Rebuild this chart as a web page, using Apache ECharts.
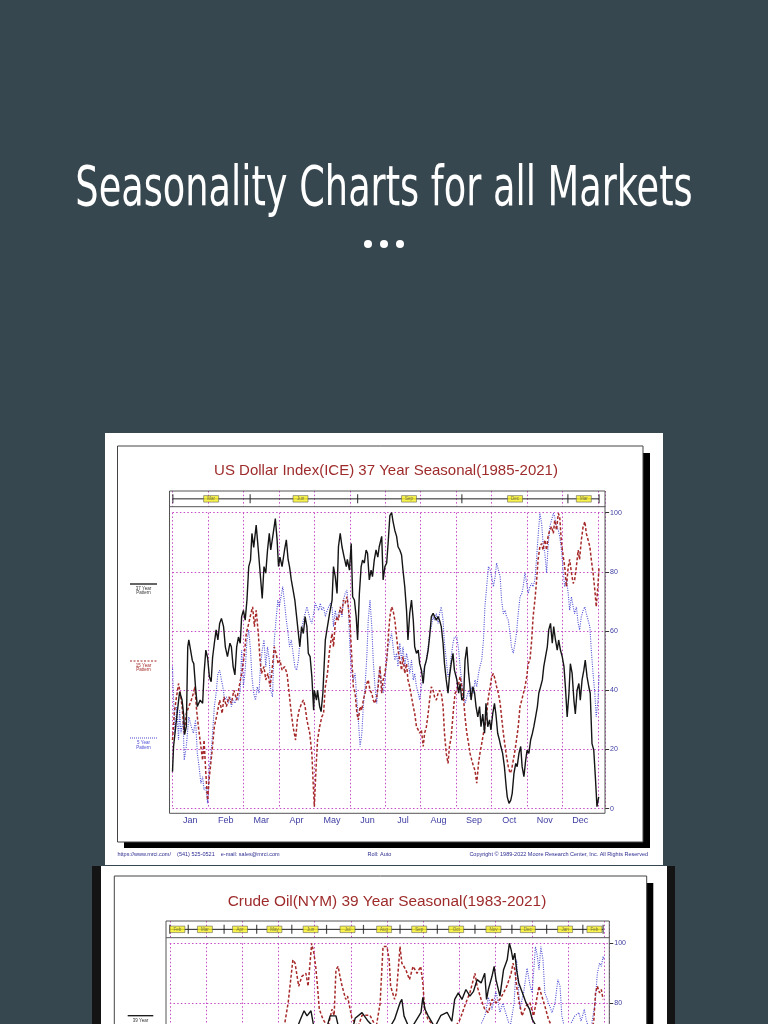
<!DOCTYPE html>
<html>
<head>
<meta charset="utf-8">
<script src="https://cdn.jsdelivr.net/npm/echarts@6/dist/echarts.min.js"></script>
<style>
html,body{margin:0;padding:0;background:#37474f;}
#main{width:768px;height:1024px;}
</style>
</head>
<body>
<div id="main"></div>
<script>
// ---------- DATA ----------
const months = ['Jan','Feb','Mar','Apr','May','Jun','Jul','Aug','Sep','Oct','Nov','Dec'];

// US Dollar Index chart (x = month position, 0 = Jan 1, 12 = Dec 31)
const usdContractNames = ['Mar','Jun','Sep','Dec','Mar'];
const usdContractPos = [1.09, 3.61, 6.67, 9.66, 11.6];
const usdRollTicks = [0.01, 2.19, 5.22, 8.16, 11.15, 12.03];

const usd37 = [[0,12.5],[0.03,21],[0.12,31],[0.20,39.5],[0.24,40],[0.27,36.7],[0.32,31],[0.34,25],[0.39,27.7],[0.43,54.7],[0.46,57],[0.51,53.6],[0.56,50],[0.60,49],[0.65,41],[0.70,34.5],[0.78,36.7],[0.85,35.6],[0.89,45.7],[0.94,53.6],[0.99,51],[1.04,44.6],[1.09,42.9],[1.13,51],[1.18,55.9],[1.23,60.4],[1.28,57],[1.33,62.6],[1.38,64.3],[1.44,61.5],[1.49,54.7],[1.55,51.4],[1.62,55.9],[1.66,54.7],[1.71,48],[1.76,45.2],[1.81,54.7],[1.86,58],[1.91,55.9],[1.95,64.9],[2.00,67],[2.05,63.7],[2.10,70.5],[2.15,81.8],[2.20,84],[2.24,93],[2.29,88.3],[2.36,95.8],[2.42,87.4],[2.48,78.4],[2.53,71],[2.58,81.8],[2.63,79.6],[2.68,87.4],[2.73,93],[2.77,87.4],[2.84,93],[2.90,98],[2.95,90.8],[2.99,81.8],[3.03,85],[3.09,81.8],[3.16,87.4],[3.21,90.8],[3.26,84.2],[3.30,81.8],[3.35,77.3],[3.40,73.9],[3.45,70.5],[3.50,64.9],[3.55,59.2],[3.59,54.7],[3.64,61.5],[3.69,59.2],[3.74,64.9],[3.79,61.5],[3.83,52.5],[3.88,51.4],[3.93,44.6],[3.98,33.3],[4.00,40],[4.06,36.7],[4.09,40],[4.15,34.5],[4.19,32.8],[4.24,39],[4.31,57],[4.37,61.5],[4.43,66],[4.50,70.5],[4.54,81.8],[4.59,78.4],[4.64,72.7],[4.68,88.5],[4.73,93],[4.78,88.5],[4.84,85],[4.90,81.8],[4.93,84.2],[4.99,80.6],[5.04,89.6],[5.08,71.6],[5.13,70.5],[5.18,64.9],[5.22,57],[5.27,72.7],[5.32,81.8],[5.36,84],[5.41,83],[5.46,87.4],[5.50,86.3],[5.55,77.3],[5.60,80.6],[5.64,78.4],[5.69,84],[5.74,87.4],[5.79,85],[5.83,88.5],[5.90,92],[5.94,77.3],[5.99,81.8],[6.04,83],[6.08,89.6],[6.13,99],[6.18,100],[6.22,97],[6.27,94],[6.32,92],[6.36,88.5],[6.41,87.4],[6.46,85.7],[6.50,80.6],[6.55,75],[6.60,67],[6.64,57],[6.69,66],[6.74,70.5],[6.79,63.7],[6.83,54.7],[6.88,52.5],[6.93,53.6],[6.97,49],[7.02,46.8],[7.07,42.3],[7.11,48],[7.16,50.2],[7.21,53.6],[7.25,58],[7.30,64.9],[7.35,66],[7.39,64.9],[7.44,63.7],[7.49,64.9],[7.53,63.7],[7.58,61.5],[7.63,55.9],[7.67,49],[7.72,43.5],[7.77,39],[7.81,44.6],[7.86,49],[7.91,52.5],[7.95,46.8],[8.02,43.5],[8.07,39],[8.11,42.3],[8.16,36.7],[8.21,37.8],[8.25,50.2],[8.30,54.7],[8.35,45.7],[8.39,41.2],[8.42,36.7],[8.47,41.2],[8.52,39],[8.56,34.5],[8.61,31],[8.66,34.5],[8.70,27.7],[8.75,32],[8.80,25.5],[8.84,35.6],[8.89,27.7],[8.94,30],[8.98,26.6],[9.03,32],[9.08,35.6],[9.12,32],[9.17,25.5],[9.22,23.2],[9.26,21],[9.31,18.7],[9.36,14.2],[9.41,7.4],[9.44,4],[9.49,1.8],[9.54,2.9],[9.58,5.2],[9.63,12],[9.68,15.3],[9.72,14.2],[9.77,18.7],[9.82,21],[9.86,14.2],[9.91,10.8],[9.96,16.4],[10.00,19.8],[10.05,18.7],[10.10,23.2],[10.15,25.5],[10.19,27.7],[10.24,31],[10.29,34.5],[10.33,39],[10.38,41.2],[10.43,43.5],[10.47,48],[10.52,51.4],[10.57,54.7],[10.61,60.4],[10.66,62.6],[10.71,55.9],[10.75,61.5],[10.80,57],[10.85,53.6],[10.89,57],[10.94,53.6],[10.99,51.4],[11.04,48],[11.08,41.2],[11.13,31],[11.18,39],[11.22,49],[11.27,45.7],[11.32,36.7],[11.36,32],[11.41,40],[11.46,42.3],[11.50,36.7],[11.55,43.5],[11.60,46.8],[11.64,50.2],[11.69,44.6],[11.74,41.2],[11.78,39],[11.83,22],[11.88,19.8],[11.93,9.7],[11.97,0.7],[12.02,4]];

const usd15 = [[0,23.2],[0.05,32.2],[0.10,36.7],[0.17,42.3],[0.22,39],[0.27,34.5],[0.33,25.5],[0.39,32.2],[0.46,34.5],[0.53,36.7],[0.59,39],[0.63,41.2],[0.68,33.3],[0.73,27.7],[0.80,21],[0.85,16.4],[0.89,23.2],[0.94,12],[0.99,2.9],[1.04,10.8],[1.11,18.7],[1.18,27.7],[1.26,32.2],[1.33,36.7],[1.40,32.2],[1.45,37.8],[1.52,34.5],[1.59,37.8],[1.66,35.6],[1.73,40],[1.81,36.7],[1.88,41.2],[1.95,45.7],[2.02,51.4],[2.08,59.2],[2.15,62.6],[2.21,65.9],[2.26,68.2],[2.31,61.5],[2.36,67],[2.42,59.2],[2.47,50.2],[2.51,45.7],[2.58,48],[2.63,43.5],[2.69,45.7],[2.75,41.2],[2.80,45.7],[2.87,54.7],[2.92,52.5],[2.98,49],[3.03,50.2],[3.09,46.8],[3.16,48],[3.23,45.7],[3.29,39],[3.35,32.2],[3.40,27.7],[3.47,23.2],[3.52,30],[3.57,33.3],[3.64,35.6],[3.69,36.7],[3.74,34.5],[3.79,30],[3.87,25.5],[3.93,18.7],[3.98,5.2],[4.00,0.7],[4.05,14.2],[4.09,23.2],[4.15,27.7],[4.21,31],[4.26,32.2],[4.31,41.2],[4.37,45.7],[4.43,53.6],[4.50,59.2],[4.54,54.7],[4.59,62.6],[4.64,64.9],[4.68,63.7],[4.73,68.2],[4.78,65.9],[4.82,70.5],[4.87,69.4],[4.92,71.6],[4.96,68.2],[5.01,61.5],[5.06,50.2],[5.10,41.2],[5.15,39],[5.20,32.2],[5.24,30],[5.29,34.5],[5.34,33.3],[5.38,36.7],[5.43,39],[5.48,42.3],[5.52,43.5],[5.57,40],[5.62,39],[5.66,36.7],[5.71,35.6],[5.76,37.8],[5.80,41.2],[5.85,48],[5.90,39],[5.94,43.5],[5.99,45.7],[6.04,50.2],[6.08,57],[6.13,64.9],[6.18,68.2],[6.22,67],[6.27,63.7],[6.32,58],[6.36,53.6],[6.41,50.2],[6.46,46.8],[6.50,51.4],[6.55,45.7],[6.60,49],[6.64,43.5],[6.69,41.2],[6.74,37.8],[6.79,34.5],[6.83,32.2],[6.88,27.7],[6.93,26.6],[6.97,25.5],[7.02,26.6],[7.07,21],[7.11,25.5],[7.16,27.7],[7.21,32.2],[7.25,36.7],[7.30,41.2],[7.35,40],[7.39,37.8],[7.44,36.7],[7.49,39],[7.53,40],[7.58,39],[7.63,34.5],[7.67,25.5],[7.72,18.7],[7.77,15.3],[7.81,21],[7.86,24.3],[7.93,34.5],[7.97,39],[8.02,40],[8.07,42.3],[8.11,44.6],[8.16,41.2],[8.21,36.7],[8.25,31],[8.30,25.5],[8.35,22],[8.39,18.7],[8.44,16.4],[8.49,14.2],[8.53,13],[8.58,8.6],[8.63,15.3],[8.67,18.7],[8.72,22],[8.77,25.5],[8.81,27.7],[8.86,32.2],[8.91,37.8],[8.96,41.2],[9.00,44.6],[9.05,45.7],[9.10,43.5],[9.14,41.2],[9.19,39],[9.24,35.6],[9.28,31],[9.33,25.5],[9.38,21],[9.42,17.6],[9.47,14.2],[9.52,12],[9.56,13],[9.61,16.4],[9.66,19.8],[9.70,23.2],[9.75,27.7],[9.80,34.5],[9.85,36.7],[9.89,36.7],[9.94,41.2],[9.99,44.6],[10.03,49],[10.08,50.2],[10.13,57],[10.17,64.9],[10.22,70.5],[10.27,77.3],[10.31,84.2],[10.36,88.5],[10.41,89.6],[10.45,87.4],[10.50,90.8],[10.55,87.4],[10.59,91.9],[10.64,94.1],[10.69,95.3],[10.74,93],[10.78,97.5],[10.83,94.1],[10.88,99.8],[10.92,98.6],[10.97,89.6],[11.02,85.1],[11.06,81.8],[11.11,75],[11.16,81.8],[11.20,84.2],[11.25,79.7],[11.30,76.1],[11.34,77.3],[11.39,81.8],[11.44,87.4],[11.48,84.2],[11.53,90.8],[11.58,95.3],[11.63,97],[11.67,93],[11.72,90.8],[11.77,88.5],[11.81,84.2],[11.86,79.7],[11.91,73.9],[11.95,68.2],[12.00,75.8],[12.03,81.8]];

const usd5 = [[0,48],[0.03,36.7],[0.07,25.5],[0.12,34.5],[0.17,23.2],[0.20,33.3],[0.24,25.5],[0.30,30],[0.33,16.4],[0.39,21],[0.46,31],[0.53,27.7],[0.59,25.5],[0.65,30],[0.70,18.7],[0.75,14.2],[0.80,8.6],[0.85,10.8],[0.89,6.3],[0.94,7.4],[0.99,1.8],[1.04,14.2],[1.09,18.7],[1.13,25.5],[1.18,34.5],[1.23,39],[1.28,45.7],[1.33,46.8],[1.38,43.5],[1.42,41.2],[1.47,36.7],[1.52,37.8],[1.57,35.6],[1.62,37.8],[1.66,34.5],[1.71,36.7],[1.76,35.6],[1.81,37.8],[1.86,36.7],[1.91,40],[1.95,53.6],[2.00,41.2],[2.05,46.8],[2.10,57],[2.15,60.4],[2.20,53.6],[2.24,44.6],[2.29,39],[2.34,36.7],[2.39,41.2],[2.44,39],[2.48,48],[2.53,53.6],[2.58,57],[2.63,48],[2.68,54.7],[2.73,50.2],[2.77,40],[2.82,37.8],[2.87,57],[2.92,63.7],[2.97,70.5],[3.01,68.2],[3.06,71.6],[3.11,75],[3.16,69.4],[3.21,63.7],[3.26,59.2],[3.30,54.7],[3.35,57],[3.40,52.5],[3.45,48],[3.50,46.8],[3.55,50.2],[3.59,55.9],[3.64,60.4],[3.69,63.7],[3.74,65.9],[3.79,68.2],[3.84,65.9],[3.89,63.7],[3.93,62.6],[3.98,65.9],[4.03,69.4],[4.07,68.2],[4.12,67],[4.17,69.4],[4.21,67],[4.26,68.2],[4.31,64.9],[4.36,67],[4.40,67],[4.45,69.4],[4.50,68.2],[4.54,61.5],[4.59,67],[4.64,63.7],[4.68,65.9],[4.73,67],[4.78,64.9],[4.82,70.5],[4.87,72.7],[4.92,73.9],[4.96,67],[5.01,52.5],[5.06,45.7],[5.10,43.5],[5.15,45.7],[5.20,36.7],[5.24,30],[5.29,21],[5.34,25.5],[5.38,34.5],[5.43,41.2],[5.48,51.4],[5.52,63.7],[5.57,70.5],[5.62,61.5],[5.66,50.2],[5.71,41.2],[5.76,35.6],[5.80,43.5],[5.85,48],[5.90,41.2],[5.94,39],[5.99,43.5],[6.04,50.2],[6.08,54.7],[6.13,57],[6.18,59.2],[6.22,54.7],[6.27,50.2],[6.32,52.5],[6.36,48],[6.41,55.9],[6.46,50.2],[6.50,54.7],[6.55,48],[6.60,52.5],[6.64,50.2],[6.69,45.7],[6.74,50.2],[6.79,43.5],[6.83,45.7],[6.88,41.2],[6.93,39],[6.97,36.7],[7.02,41.2],[7.07,45.7],[7.11,48],[7.16,50.2],[7.21,54.7],[7.25,59.2],[7.30,61.5],[7.35,64.9],[7.39,63.7],[7.44,65.9],[7.49,62.6],[7.53,65.9],[7.58,68.2],[7.63,63.7],[7.67,55.9],[7.72,50.2],[7.77,44.6],[7.81,45.7],[7.86,51.4],[7.91,55.9],[7.95,58],[8.02,58],[8.07,53.6],[8.11,48],[8.16,42.3],[8.21,39],[8.25,35.6],[8.30,37.8],[8.35,40],[8.39,37.8],[8.44,41.2],[8.49,39],[8.53,43.5],[8.58,41.2],[8.63,45.7],[8.67,48],[8.72,50.2],[8.77,57],[8.81,68.2],[8.86,75],[8.91,81.8],[8.96,80.6],[9.00,78.4],[9.05,75],[9.10,78.4],[9.14,83],[9.19,83.5],[9.24,78.4],[9.28,70.5],[9.33,65.9],[9.38,67],[9.42,64.9],[9.47,63.7],[9.52,59.2],[9.56,54.7],[9.61,52.5],[9.66,55.9],[9.70,59.2],[9.75,65.9],[9.80,71.6],[9.85,72.7],[9.89,75],[9.94,79.7],[9.99,76.1],[10.03,72.7],[10.08,75],[10.13,76.1],[10.17,75],[10.22,77.3],[10.27,85.1],[10.31,91.9],[10.36,99.8],[10.41,96.4],[10.45,89.6],[10.50,86.3],[10.55,79.7],[10.59,88.5],[10.64,95.3],[10.69,97.5],[10.74,99.8],[10.78,98.6],[10.83,95.3],[10.88,94.1],[10.92,91.9],[10.97,87.4],[11.02,79.7],[11.06,75],[11.11,77.3],[11.16,72.7],[11.20,67],[11.25,71.6],[11.30,68.2],[11.34,65.9],[11.39,68.2],[11.44,62.6],[11.48,60.4],[11.53,64.9],[11.58,67],[11.63,68.2],[11.67,65.9],[11.72,63.7],[11.77,61.5],[11.81,53.6],[11.86,45.7],[11.91,39],[11.95,31],[12.00,36.7],[12.03,45.7]];

// Crude Oil chart (only the top part is visible)
const crudeContractNames = ['Feb','Mar','Apr','May','Jun','Jul','Aug','Sep','Oct','Nov','Dec','Jan','Feb'];
const crudeContractPos = [0.21,0.97,1.94,2.89,3.89,4.91,5.92,6.89,7.91,8.94,9.89,10.92,11.73];
const crudeRollTicks = [0.0,0.51,1.5,2.4,3.37,4.33,5.35,6.36,7.39,8.43,9.45,10.41,11.41,11.97];

const crude39 = [[0,55],[3.04,62],[3.46,70],[3.61,74.7],[3.71,77.5],[3.79,75.8],[3.90,77.5],[3.98,72],[4.29,70],[4.43,75.8],[4.59,75.8],[4.70,70],[4.98,68],[5.12,75],[5.31,76.9],[5.48,74],[5.81,70],[6.08,72],[6.21,74.7],[6.36,80.2],[6.41,81.3],[6.47,75.8],[6.64,71],[6.94,77],[6.99,82],[7.05,78],[7.13,76],[7.32,72],[7.49,76],[7.66,77],[7.79,74],[7.87,81.3],[7.97,83.5],[8.07,81.3],[8.18,84.6],[8.29,82.4],[8.39,84],[8.49,87.9],[8.60,86.8],[8.70,90],[8.75,81.3],[8.80,84.6],[8.90,89],[8.96,92.3],[9.01,87.9],[9.12,82.4],[9.22,91.2],[9.32,94.5],[9.38,100],[9.43,97.8],[9.48,94.5],[9.53,96.7],[9.58,91.2],[9.64,86.8],[9.74,83.5],[9.84,80.2],[9.94,78],[10.01,74.7],[10.14,72],[10.36,68],[10.78,62],[11.33,58],[12.02,55]];

const crude15 = [[0,50],[2.77,62],[3.13,70],[3.27,80.2],[3.40,94.5],[3.46,93.4],[3.56,85.7],[3.65,89],[3.76,90],[3.82,85.7],[3.92,100],[3.98,96.7],[4.03,92.3],[4.08,85.7],[4.13,78],[4.23,74.7],[4.37,72],[4.48,78],[4.54,76],[4.59,91.2],[4.65,92.3],[4.70,89],[4.76,85.7],[4.86,81.3],[4.91,82.4],[5.03,75],[5.20,72],[5.31,76],[5.53,76],[5.70,72],[5.81,80],[5.89,98.9],[6.00,98.9],[6.06,94.5],[6.10,85.7],[6.21,81.3],[6.26,83.5],[6.36,98.9],[6.41,93.4],[6.52,91.2],[6.62,87.9],[6.72,92.3],[6.83,90],[6.93,92.3],[6.99,86.8],[7.04,78],[7.13,74.7],[7.46,70],[7.88,72],[8.02,74.7],[8.18,80.2],[8.29,83.5],[8.43,90],[8.49,85.7],[8.60,81.3],[8.70,78],[8.80,76.9],[8.90,81.3],[9.01,80.2],[9.12,81.3],[9.22,83.5],[9.31,85.7],[9.43,90],[9.48,93.4],[9.53,91.2],[9.58,85.7],[9.64,81.3],[9.73,75.8],[9.84,79.1],[9.95,80.2],[10.05,75.8],[10.15,82.4],[10.20,85.7],[10.25,83.5],[10.36,79.1],[10.46,74.7],[10.64,70],[11.06,66],[11.47,68],[11.71,73.6],[11.76,83.5],[11.81,85.7],[11.87,83.5],[11.92,84.6],[11.97,81.3]];

const crude5 = [[0,45],[8.29,65],[8.71,76],[8.80,82],[8.90,78],[9.01,84],[9.12,77],[9.20,80],[9.40,72],[9.51,80],[9.58,94.5],[9.62,87],[9.67,78],[9.78,84],[9.87,91.7],[9.95,86],[10.01,83.5],[10.10,98.9],[10.14,96.7],[10.20,91.2],[10.25,98.9],[10.31,94.5],[10.36,83.5],[10.46,80.2],[10.56,76.9],[10.64,80],[10.72,87.9],[10.78,85.7],[10.83,75.8],[10.94,70],[11.19,75.8],[11.30,76.9],[11.36,74],[11.45,78],[11.50,74.7],[11.61,70],[11.75,80],[11.81,90],[11.87,93.4],[11.92,92.3],[11.97,95.6],[12.00,94.5]];

// ---------- STYLE ----------
const GRID_COLOR = '#c54dc5';
const AXIS_TXT = '#3c3ca2';
const RED = '#a62828';
const BLUE = '#4a4ad4';
const SANS = '"Liberation Sans", Arial, sans-serif';

const chart = echarts.init(document.getElementById('main'), null, {renderer: 'canvas', width: 768, height: 1024});

function dottedSplit() {
  return {show: true, lineStyle: {color: GRID_COLOR, type: [1.5, 2.2], width: 1}};
}
function gridXAxis(gi, max) {
  return {type: 'value', gridIndex: gi, min: 0, max: max, interval: 1, position: 'top',
    axisLine: {show: false, onZero: false}, axisTick: {show: false}, axisLabel: {show: false},
    splitLine: dottedSplit()};
}
function valueYAxis(gi) {
  return {type: 'value', gridIndex: gi, min: 0, max: 100, interval: 20, position: 'right',
    axisLine: {show: false, onZero: false},
    axisTick: {show: true, length: 4, lineStyle: {color: '#333', width: 1}},
    axisLabel: {fontSize: 7, color: AXIS_TXT, margin: 5, fontFamily: SANS},
    splitLine: dottedSplit()};
}
function bandYAxis(gi) {
  return {type: 'value', gridIndex: gi, min: 0, max: 1, show: false};
}
function seriesSet(xi, yi, d37, d15, d5) {
  return [
    {type: 'line', xAxisIndex: xi, yAxisIndex: yi, data: d5, showSymbol: false, symbol: 'none',
     lineStyle: {color: BLUE, width: 1.1, type: [1, 1.3]}, z: 3},
    {type: 'line', xAxisIndex: xi, yAxisIndex: yi, data: d15, showSymbol: false, symbol: 'none',
     lineStyle: {color: RED, width: 1.5, type: [3, 2]}, z: 4},
    {type: 'line', xAxisIndex: xi, yAxisIndex: yi, data: d37, showSymbol: false, symbol: 'none',
     lineStyle: {color: '#151515', width: 1.4}, z: 5}
  ];
}
function bandSeries(xi, yi, ticks, pos, names) {
  return [
    {type: 'line', xAxisIndex: xi, yAxisIndex: yi, symbol: 'none',
     data: [[ticks[0], 0.5], [ticks[ticks.length - 1], 0.5]],
     lineStyle: {color: '#222', width: 1}, z: 3},
    {type: 'scatter', xAxisIndex: xi, yAxisIndex: yi, symbol: 'rect', symbolSize: [1.2, 9],
     data: ticks.map(t => [t, 0.5]), itemStyle: {color: '#222'}, z: 4},
    {type: 'scatter', xAxisIndex: xi, yAxisIndex: yi, symbol: 'rect', symbolSize: [15, 6.5],
     data: pos.map((p, i) => ({name: names[i], value: [p, 0.5]})),
     itemStyle: {color: '#f8f020', borderColor: '#555', borderWidth: 0.6},
     label: {show: true, position: 'inside', formatter: '{b}', fontSize: 4.5, color: '#555', fontFamily: SANS},
     z: 5}
  ];
}

const USD_MAX = 12.2, CRUDE_MAX = 12.14;

function txt(text, x, y, size, color, align, extra) {
  return Object.assign({type: 'text', silent: true, z: 20, style: {
    text: text, x: x, y: y, fill: color, font: size + 'px ' + SANS,
    align: align || 'center', verticalAlign: 'middle',
    textAlign: align || 'center', textVerticalAlign: 'middle'}}, extra || {});
}
function rect(x, y, w, h, fill, stroke, z) {
  return {type: 'rect', silent: true, z: z, shape: {x: x, y: y, width: w, height: h},
    style: {fill: fill, stroke: stroke || null, lineWidth: 1}};
}
function hline(x1, x2, y, color, dash, w) {
  return {type: 'line', silent: true, z: 15, shape: {x1: x1, y1: y, x2: x2, y2: y},
    style: {stroke: color, lineWidth: w || 1, lineDash: dash || null}};
}

const graphics = [
  // slide title
  {type: 'text', silent: true, z: 20, x: 384, y: 191, scaleX: 0.8, scaleY: 1.08,
   style: {text: 'Seasonality Charts for all Markets', x: 0, y: 0, fill: '#ffffff',
     font: '51px "DejaVu Sans Condensed", "DejaVu Sans", sans-serif',
     align: 'center', verticalAlign: 'middle', textAlign: 'center', textVerticalAlign: 'middle'}},
  {type: 'circle', silent: true, z: 20, shape: {cx: 368, cy: 244, r: 4}, style: {fill: '#fff'}},
  {type: 'circle', silent: true, z: 20, shape: {cx: 384, cy: 244, r: 4}, style: {fill: '#fff'}},
  {type: 'circle', silent: true, z: 20, shape: {cx: 400, cy: 244, r: 4}, style: {fill: '#fff'}},

  // ---- panel 1 ----
  rect(105, 433, 558, 432, '#ffffff', null, -10),
  rect(124, 453, 526, 395, '#000000', null, -9),
  rect(117.5, 446, 525.5, 396, '#ffffff', '#444', -8),
  rect(169.5, 491, 435.5, 322.3, null, '#555', 15),
  hline(169.5, 605, 506.7, '#555'),
  txt('US Dollar Index(ICE) 37 Year Seasonal(1985-2021)', 386, 471, 15, '#9e2b2b'),
  hline(130, 157, 584, '#111', null, 1.3),
  txt('37 Year', 143.5, 588.5, 4.5, '#333'),
  txt('Pattern', 143.5, 593, 4.5, '#333'),
  hline(130, 157, 661, RED, [2, 1.5], 1.2),
  txt('15 Year', 143.5, 665.5, 4.5, RED),
  txt('Pattern', 143.5, 670, 4.5, RED),
  hline(130, 157, 738, BLUE, [1, 1], 1),
  txt('5 Year', 143.5, 743, 4.5, BLUE),
  txt('Pattern', 143.5, 747.5, 4.5, BLUE),
  txt('https://www.mrci.com/    (541) 525-0521    e-mail: sales@mrci.com', 117.5, 854, 5.5, '#2d2d90', 'left'),
  txt('Roll: Auto', 367.5, 854, 5.5, '#2d2d90', 'left'),
  txt('Copyright \u00a9 1989-2022 Moore Research Center, Inc. All Rights Reserved', 648, 854, 5.5, '#2d2d90', 'right'),

  // ---- panel 2 ----
  rect(92, 866, 583, 158, '#141414', null, -10),
  rect(101, 866, 566, 158, '#ffffff', null, -9.5),
  rect(121, 883, 532.3, 141, '#000000', null, -9),
  rect(114.3, 876, 532.4, 200, '#ffffff', '#444', -8),
  rect(166, 921, 443.3, 330, null, '#555', 15),
  hline(166, 609.3, 937.7, '#555'),
  txt('Crude Oil(NYM) 39 Year Seasonal(1983-2021)', 387, 902, 15.4, '#9e2b2b'),
  hline(127.7, 153.3, 1015.7, '#111', null, 1.3),
  txt('39 Year', 140.5, 1020.5, 4.5, '#333')
];

const option = {
  animation: false,
  backgroundColor: '#37474f',
  grid: [
    {left: 172.5, top: 512.7, width: 12.2 * 35.46, height: 296, outerBoundsMode: 'none', containLabel: false},
    {left: 172.5, top: 491, width: 12.2 * 35.46, height: 15.7, outerBoundsMode: 'none', containLabel: false},
    {left: 169.8, top: 943.3, width: 12.14 * 36.2, height: 300, outerBoundsMode: 'none', containLabel: false},
    {left: 169.8, top: 921, width: 12.14 * 36.2, height: 16.7, outerBoundsMode: 'none', containLabel: false}
  ],
  xAxis: [
    gridXAxis(0, USD_MAX),
    {type: 'value', gridIndex: 0, min: 0, max: USD_MAX, interval: 0.5, position: 'bottom',
     axisLine: {show: false, onZero: false}, axisTick: {show: false}, splitLine: {show: false},
     axisLabel: {show: true, fontSize: 9, color: AXIS_TXT, margin: 7, fontFamily: SANS,
       formatter: function (v) { const k = Math.round(v * 2); return (k % 2 === 1 && months[(k - 1) / 2]) ? months[(k - 1) / 2] : ''; }}},
    gridXAxis(1, USD_MAX),
    gridXAxis(2, CRUDE_MAX),
    gridXAxis(3, CRUDE_MAX)
  ],
  yAxis: [valueYAxis(0), bandYAxis(1), valueYAxis(2), bandYAxis(3)],
  series: [].concat(
    seriesSet(0, 0, usd37, usd15, usd5),
    bandSeries(2, 1, usdRollTicks, usdContractPos, usdContractNames),
    seriesSet(3, 2, crude39, crude15, crude5),
    bandSeries(4, 3, crudeRollTicks, crudeContractPos, crudeContractNames)
  ),
  graphic: {elements: graphics}
};
chart.setOption(option);
</script>
</body>
</html>
